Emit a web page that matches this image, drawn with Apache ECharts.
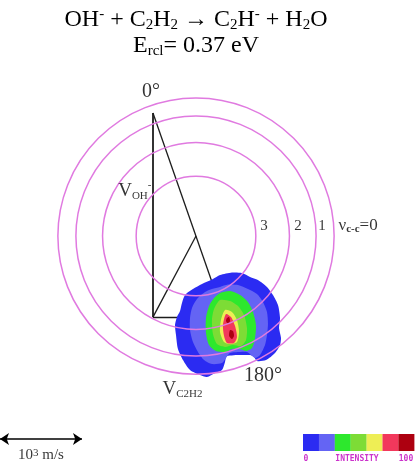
<!DOCTYPE html>
<html>
<head>
<meta charset="utf-8">
<title>OH- + C2H2 velocity map</title>
<script src="https://cdn.jsdelivr.net/npm/echarts@6/dist/echarts.min.js"></script>
<style>
html, body { margin: 0; padding: 0; background: #fff; }
#chart { width: 417px; height: 463px; }
</style>
</head>
<body>
<div id="chart"></div>
<script>
// all velocities in m/s, centre of mass at 0,0
var ringRadius = [730, 1140, 1465, 1685];          // v(c-c) = 3, 2, 1, 0
var ringNames = ['3', '2', '1'];

var origin = [-525, -990];
var vOH = [-525, 1500];
var vC2H2 = [345, -990];
var vCM = [0, 0];
var scaleBar = [[-2391, -2477], [-1391, -2477]];   // 10^3 m/s

// C2H- flux contours, outermost (0) to peak
var level1 = [[207, -525], [293, -476], [439, -445], [561, -451], [659, -500], [756, -537], [866, -622],
    [939, -720], [1000, -842], [1025, -1000], [1013, -1122], [1037, -1244], [1025, -1330], [964, -1427],
    [854, -1513], [744, -1525], [708, -1476], [659, -1452], [378, -1464], [354, -1537], [317, -1635],
    [232, -1671], [134, -1720], [49, -1696], [-73, -1635], [-159, -1513], [-220, -1379], [-244, -1208],
    [-256, -1086], [-232, -988], [-195, -915], [-171, -817], [-134, -720], [-37, -647], [73, -586]];
var level2 = [[293, -622], [390, -592], [512, -598], [634, -647], [744, -708], [817, -805], [866, -927],
    [878, -1074], [866, -1208], [842, -1330], [781, -1452], [720, -1488], [671, -1452], [622, -1415],
    [537, -1415], [415, -1427], [366, -1488], [317, -1549], [195, -1562], [98, -1513], [24, -1415],
    [-37, -1293], [-73, -1147], [-73, -1000], [-49, -878], [12, -769], [110, -683], [195, -647]];
var level3 = [[293, -695], [415, -671], [537, -720], [634, -805], [695, -927], [732, -1086], [720, -1244],
    [683, -1366], [610, -1403], [537, -1379], [439, -1379], [366, -1415], [244, -1403], [159, -1330],
    [122, -1183], [122, -1000], [159, -854], [220, -756]];
var level4 = [[293, -781], [415, -793], [512, -854], [586, -964], [622, -1122], [610, -1269], [549, -1342],
    [451, -1330], [354, -1354], [256, -1318], [207, -1196], [195, -1025], [220, -891]];
var level5 = [[354, -903], [439, -927], [500, -1025], [525, -1171], [500, -1293], [415, -1318],
    [342, -1293], [293, -1171], [305, -1025]];
var level6 = [[366, -952], [427, -988], [476, -1098], [500, -1232], [464, -1305], [378, -1305],
    [342, -1220], [329, -1086]];
var level7a = [[378, -1000], [403, -988], [415, -1037], [390, -1074], [366, -1037]];
var level7b = [[415, -1147], [451, -1159], [464, -1220], [439, -1257], [403, -1220]];

var levelColors = ['#2b2bf2', '#6464f4', '#2de82d', '#7ddc36', '#eeee55', '#f2385c', '#ad0010'];
var blobLevels = [[level1], [level2], [level3], [level4], [level5], [level6], [level7a, level7b]];

var serif = 'Liberation Serif';

var chart = echarts.init(document.getElementById('chart'));

function txt(size, extra) {
    var s = { fontFamily: serif, fontSize: size, fontWeight: 'normal', color: '#000' };
    for (var k in extra) s[k] = extra[k];
    return s;
}

var rich = {
    m: txt(24, { lineHeight: 26 }),
    s: txt(15, { lineHeight: 15, verticalAlign: 'bottom' }),
    p: txt(15, { lineHeight: 15, verticalAlign: 'top' }),
    n: txt(15),
    d: txt(20),
    v: txt(19, { lineHeight: 22 }),
    vs: txt(11, { lineHeight: 11, verticalAlign: 'bottom' }),
    vp: txt(11, { lineHeight: 11, verticalAlign: 'top' }),
    nu: txt(17, { lineHeight: 18 }),
    ns: txt(11, { lineHeight: 11, verticalAlign: 'bottom', fontWeight: 'bold' })
};

var notes = [
    { value: [-549, 1757], label: { position: 'inside', formatter: '{d|0°}' } },
    { value: [817, -1708], label: { position: 'inside', formatter: '{d|180°}' } },
    { value: [830, 122], label: { position: 'inside', formatter: '{n|' + ringNames[0] + '}' } },
    { value: [1244, 122], label: { position: 'inside', formatter: '{n|' + ringNames[1] + '}' } },
    { value: [1537, 122], label: { position: 'inside', formatter: '{n|' + ringNames[2] + '}' } },
    { value: [1732, 122], label: { position: 'right', distance: 0, formatter: '{nu|ν}{ns|c-c}{nu|=0}' } },
    { value: [-537, 549], label: { position: 'left', distance: 0, formatter: '{v|V}{vs|OH}{vp|-}' } },
    { value: [-415, -1867], label: { position: 'right', distance: 0, formatter: '{v|V}{vs|C}{vs|2}{vs|H}{vs|2}' } },
    { value: [-1891, -2672], label: { position: 'inside', formatter: '{n|10}{vp|3}{n| m/s}' } }
];

var option = {
    animation: false,
    backgroundColor: '#fff',
    title: {
        left: 191,
        top: 2,
        textAlign: 'center',
        text: '{m|OH}{p|-}{m| + C}{s|2}{m|H}{s|2}{m| → C}{s|2}{m|H}{p|-}{m| + H}{s|2}{m|O}\n{m|E}{s|rcl}{m|= 0.37 eV}',
        textStyle: { fontWeight: 'normal', rich: rich }
    },
    grid: { left: 0, right: 0, top: 0, bottom: 0 },
    xAxis: { type: 'value', min: -2391, max: 2696, show: false },
    yAxis: { type: 'value', min: -2769, max: 2879, show: false },
    series: [
        {
            // Newton diagram
            type: 'lines',
            coordinateSystem: 'cartesian2d',
            z: 1,
            silent: true,
            lineStyle: { color: '#1c1c1c', width: 1.3, opacity: 1 },
            data: [
                { coords: [origin, vOH], lineStyle: { width: 2, color: '#333' } },
                { coords: [origin, vC2H2] },
                { coords: [vOH, vC2H2] },
                { coords: [origin, vCM] }
            ]
        },
        {
            type: 'lines',
            coordinateSystem: 'cartesian2d',
            z: 1,
            silent: true,
            symbol: ['arrow', 'arrow'],
            symbolSize: 9,
            lineStyle: { color: '#000', width: 1.5, opacity: 1 },
            data: [{ coords: scaleBar }]
        },
        {
            type: 'custom',
            z: 2,
            silent: true,
            data: blobLevels.map(function (l, i) { return [i, 0]; }),
            renderItem: function (params, api) {
                var i = api.value(0);
                return {
                    type: 'group',
                    children: blobLevels[i].map(function (ring) {
                        return {
                            type: 'polygon',
                            shape: { points: ring.map(function (p) { return api.coord(p); }), smooth: 0.25 },
                            style: { fill: levelColors[i], stroke: null }
                        };
                    })
                };
            }
        },
        {
            type: 'custom',
            z: 3,
            silent: true,
            data: ringRadius.map(function (r) { return [r, 0]; }),
            renderItem: function (params, api) {
                var c = api.coord(vCM);
                var r = api.size([api.value(0), 0])[0];
                return {
                    type: 'circle',
                    shape: { cx: c[0], cy: c[1], r: r },
                    style: { fill: null, stroke: '#e07ae0', lineWidth: 1.5 }
                };
            }
        },
        {
            type: 'scatter',
            z: 4,
            silent: true,
            symbolSize: 1,
            itemStyle: { color: 'rgba(0,0,0,0)' },
            label: { show: true, rich: rich },
            data: notes
        }
    ],
    graphic: [
        {
            type: 'group',
            left: 303,
            top: 434,
            children: levelColors.map(function (c, i) {
                return { type: 'rect', shape: { x: i * 15.9, y: 0, width: 16, height: 17 }, style: { fill: c } };
            }).concat([
                { type: 'text', x: 3, y: 21, style: { text: '0', fill: '#cc33cc', font: 'bold 8px "DejaVu Sans Mono"', align: 'center' } },
                { type: 'text', x: 54, y: 21, style: { text: 'INTENSITY', fill: '#cc33cc', font: 'bold 8px "DejaVu Sans Mono"', align: 'center' } },
                { type: 'text', x: 103, y: 21, style: { text: '100', fill: '#cc33cc', font: 'bold 8px "DejaVu Sans Mono"', align: 'center' } }
            ])
        }
    ]
};

chart.setOption(option);
</script>
</body>
</html>
